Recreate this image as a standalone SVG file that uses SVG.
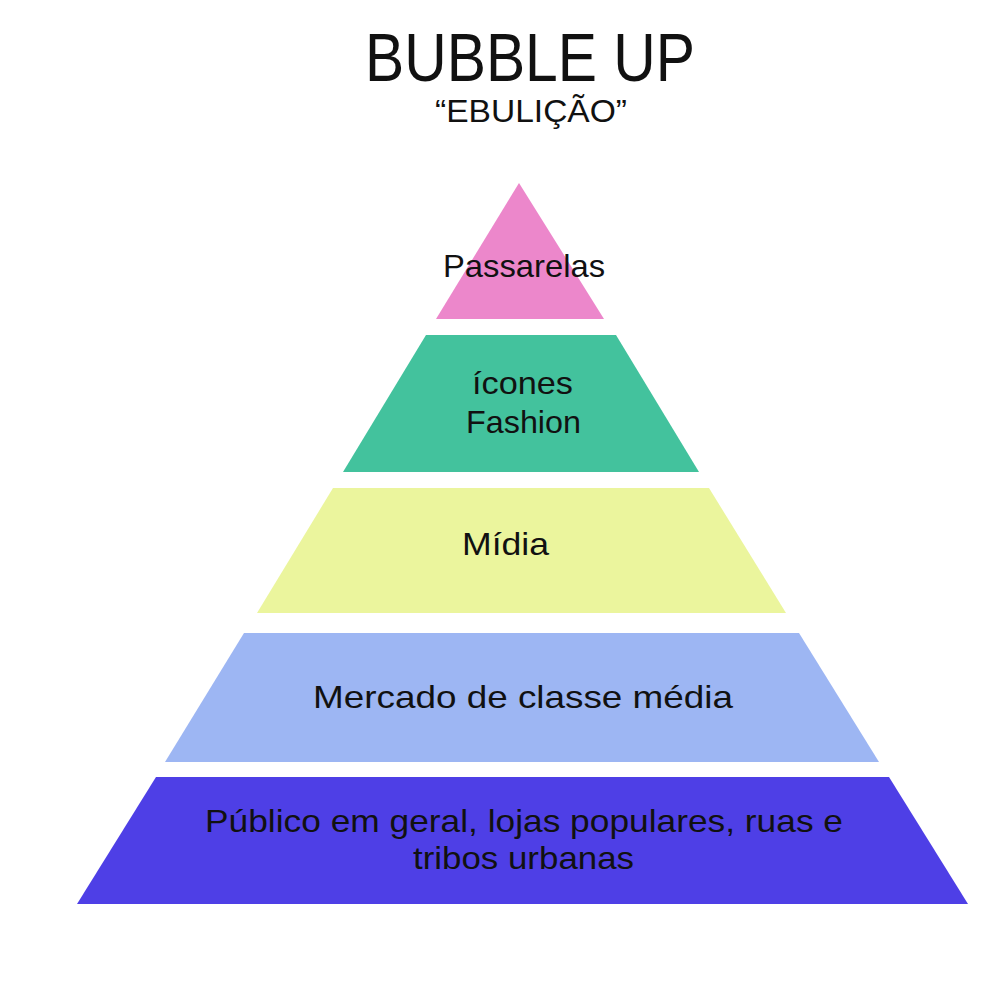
<svg xmlns="http://www.w3.org/2000/svg" width="1000" height="1000" viewBox="0 0 1000 1000">
<style>
  text { font-family: "Liberation Sans", Arial, sans-serif; fill: #111; }
  .lbl { font-size: 32px; }
</style>
<rect x="0" y="0" width="1000" height="1000" fill="#ffffff"/>
<g id="title">
  <text x="365" y="81" font-size="68" textLength="330" lengthAdjust="spacingAndGlyphs">BUBBLE UP</text>
  <text x="435" y="122" font-size="32" textLength="192" lengthAdjust="spacingAndGlyphs">“EBULIÇÃO”</text>
</g>
<g id="connectors"></g>
<g id="passarelas">
  <polygon points="519,183 604,319 436,319" fill="#EC87CB"/>
  <text class="lbl" x="443" y="277" textLength="162" lengthAdjust="spacingAndGlyphs">Passarelas</text>
</g>
<g id="icones">
  <polygon points="426,335 616,335 699,472 343,472" fill="#43C29D"/>
  <text class="lbl" x="472" y="394" textLength="101" lengthAdjust="spacingAndGlyphs">ícones</text>
  <text class="lbl" x="466" y="433" textLength="115" lengthAdjust="spacingAndGlyphs">Fashion</text>
</g>
<g id="midia">
  <polygon points="333,488 709,488 786,613 257,613" fill="#EBF59D"/>
  <text class="lbl" x="462" y="555" textLength="87" lengthAdjust="spacingAndGlyphs">Mídia</text>
</g>
<g id="mercado">
  <polygon points="244,633 799,633 879,762 165,762" fill="#9DB6F3"/>
  <text class="lbl" x="313" y="708" textLength="420" lengthAdjust="spacingAndGlyphs">Mercado de classe média</text>
</g>
<g id="publico">
  <polygon points="156,777 889,777 968,904 77,904" fill="#4E3FE6"/>
  <text class="lbl" x="205" y="832" textLength="638" lengthAdjust="spacingAndGlyphs">Público em geral, lojas populares, ruas e</text>
  <text class="lbl" x="413" y="869" textLength="221" lengthAdjust="spacingAndGlyphs">tribos urbanas</text>
</g>
</svg>
